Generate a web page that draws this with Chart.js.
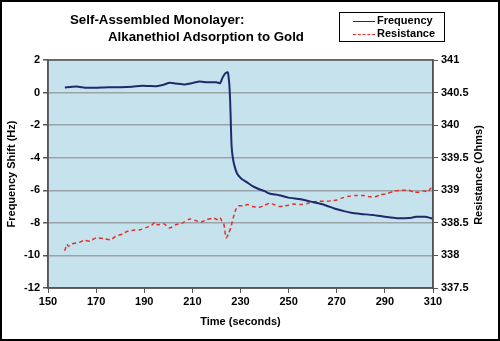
<!DOCTYPE html>
<html>
<head>
<meta charset="utf-8">
<script src="https://cdn.jsdelivr.net/npm/chart.js@4.4.1/dist/chart.umd.min.js"></script>
<style>
  body { margin: 0; background: #fff; }
  #wrap { position: relative; width: 500px; height: 341px; font-family: "Liberation Sans", Arial, sans-serif; font-weight: bold; }
  #frame { position: absolute; left: 0; top: 0; width: 496px; height: 337px; border: 2px solid #000; pointer-events: none; }
  .ttl { position: absolute; font-size: 13.3px; white-space: nowrap; color: #000; }
  #legend { position: absolute; left: 339px; top: 12px; width: 104px; height: 28px; border: 1px solid #000; background: #fff; font-size: 11px; }
  .row { position: absolute; left: 13px; height: 13px; line-height: 13px; }
  .swatch { display: inline-block; width: 22px; height: 0; vertical-align: middle; margin-right: 2px; }
  #rtitle { position: absolute; left: 478px; top: 175px; font-size: 11px; white-space: nowrap; transform: translate(-50%, -50%) rotate(-90deg); }
</style>
</head>
<body>
<div id="wrap">
  <canvas id="chart" width="500" height="341"></canvas>
  <div class="ttl" style="left:70px; top:12px;">Self-Assembled Monolayer:</div>
  <div class="ttl" style="left:108px; top:29px;">Alkanethiol Adsorption to Gold</div>
  <div id="legend">
    <div class="row" style="top:1px;"><span class="swatch" style="border-top:1.5px solid #1f2a6b;"></span>Frequency</div>
    <div class="row" style="top:14px;"><span class="swatch" style="border-top:1.5px dashed #e0302c;"></span>Resistance</div>
  </div>
  <div id="rtitle">Resistance (Ohms)</div>
  <div id="frame"></div>
</div>
<script>
// ── DATOS ────────────────────────────────────────────
const tiempoFrec = [157, 160, 162, 164, 166, 170, 175, 180, 185, 189, 192, 195, 198, 200.5, 203, 207, 210, 213, 216, 220, 221.5, 222.5, 223.5, 224.7,
  225.3, 225.7, 226.0, 226.3, 226.8, 227.5, 228.7, 230.5, 232.6, 235, 238, 240, 242, 246, 250, 255, 260, 265, 269, 273, 276, 280, 285, 290, 295, 300, 303, 307, 310];
const frecuencia = [0.31, 0.36, 0.38, 0.33, 0.29, 0.30, 0.33, 0.33, 0.36, 0.42, 0.40, 0.39, 0.48, 0.60, 0.56, 0.50, 0.58, 0.68, 0.63, 0.63, 0.58, 0.90, 1.15, 1.25,
  0.6, -0.5, -2.0, -3.3, -4.0, -4.5, -5.0, -5.3, -5.5, -5.75, -5.95, -6.05, -6.2, -6.3, -6.45, -6.55, -6.72, -6.9, -7.12, -7.28, -7.38, -7.45, -7.52, -7.62, -7.71, -7.70, -7.63, -7.63, -7.75];

const tiempoRes = [157, 157.8, 158.5, 160, 163, 165, 167.5, 170, 173, 176, 178, 181, 183, 186, 188, 191, 193, 194.5, 195.5, 198, 200.5, 203, 206, 209, 211, 213.5,
  216, 219, 220.5, 221.5, 222.2, 223, 224, 225, 226, 227, 228, 229, 231, 233, 235, 238, 240, 242, 244, 246, 248, 250, 252, 255, 258, 260, 263, 266, 268, 270,
  272, 275, 278, 281, 284, 286, 288, 291, 294, 297, 300, 302, 304, 306, 308, 309, 310];
const resistencia = [338.07, 338.17, 338.14, 338.18, 338.20, 338.23, 338.22, 338.27, 338.26, 338.24, 338.29, 338.33, 338.37, 338.39, 338.39, 338.43, 338.46, 338.51,
  338.47, 338.49, 338.42, 338.47, 338.50, 338.56, 338.54, 338.51, 338.55, 338.57, 338.55, 338.58, 338.53, 338.50, 338.27, 338.33, 338.43, 338.58, 338.70, 338.76,
  338.76, 338.78, 338.75, 338.74, 338.77, 338.80, 338.78, 338.75, 338.76, 338.77, 338.79, 338.78, 338.80, 338.82, 338.83, 338.83, 338.84, 338.85, 338.88, 338.91,
  338.92, 338.92, 338.90, 338.90, 338.93, 338.95, 338.99, 339.00, 339.00, 338.97, 338.97, 338.99, 338.98, 339.03, 339.02];

const ticksX = [150, 170, 190, 210, 230, 250, 270, 290, 310];

const fondoArea = {
  id: 'fondoArea',
  beforeDraw(chart) {
    const { ctx, chartArea: a } = chart;
    ctx.save();
    ctx.fillStyle = '#c6e3ed';
    ctx.fillRect(a.left, a.top, a.right - a.left, a.bottom - a.top);
    ctx.restore();
  },
  afterDraw(chart) {
    const { ctx, chartArea: a } = chart;
    ctx.save();
    ctx.strokeStyle = '#555';
    ctx.lineWidth = 1.5;
    ctx.strokeRect(a.left, a.top, a.right - a.left, a.bottom - a.top);
    ctx.restore();
  }
};

const fuente = { family: '"Liberation Sans", Arial, sans-serif', size: 11, weight: 'bold' };

new Chart(document.getElementById('chart'), {
  type: 'line',
  data: {
    datasets: [
      { label: 'Frequency', data: tiempoFrec.map((t, i) => ({ x: t, y: frecuencia[i] })), yAxisID: 'y',
        borderColor: '#1f2a6b', borderWidth: 2, pointRadius: 0, tension: 0.2 },
      { label: 'Resistance', data: tiempoRes.map((t, i) => ({ x: t, y: resistencia[i] })), yAxisID: 'y2',
        borderColor: '#e0302c', borderWidth: 1.5, borderDash: [4, 3], pointRadius: 0, tension: 0.2 },
    ]
  },
  options: {
    responsive: false, animation: false,
    layout: { padding: { top: 60, left: 0, right: 0, bottom: 0 } },
    plugins: { legend: { display: false }, title: { display: false }, tooltip: { enabled: false } },
    scales: {
      x: {
        type: 'linear', min: 150, max: 310,
        afterBuildTicks: s => { s.ticks = ticksX.map(v => ({ value: v })); },
        afterFit: s => { s.height = 53; },
        ticks: { color: '#000', font: fuente, padding: 2, maxRotation: 0 },
        grid: { display: true, drawOnChartArea: false, tickLength: 5, color: '#555' },
        border: { display: true, color: '#555', width: 1.5 },
        title: { display: true, text: 'Time (seconds)', color: '#000', font: fuente, padding: { top: 0, bottom: 12 } }
      },
      y: {
        position: 'left', min: -12, max: 2,
        afterFit: s => { s.width = 48; },
        ticks: { stepSize: 2, color: '#000', font: fuente, padding: 3 },
        grid: { color: '#9aa3a8', lineWidth: 1.5, tickLength: 5, tickColor: '#555' },
        border: { display: true, color: '#555', width: 1.5 },
        title: { display: true, text: 'Frequency Shift (Hz)', color: '#000', font: fuente, padding: { top: 5, bottom: 0 } }
      },
      y2: {
        position: 'right', min: 337.5, max: 341,
        afterFit: s => { s.width = 67; },
        ticks: { stepSize: 0.5, color: '#000', font: fuente, padding: 3, callback: v => String(v) },
        grid: { drawOnChartArea: false, tickLength: 5, color: '#555' },
        border: { display: true, color: '#555', width: 1.5 }
      }
    }
  },
  plugins: [fondoArea]
});
</script>
</body>
</html>
